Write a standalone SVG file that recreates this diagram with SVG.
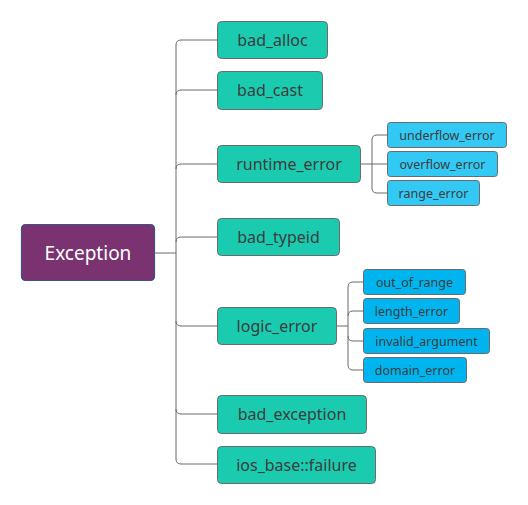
<svg xmlns="http://www.w3.org/2000/svg" width="528" height="505" viewBox="0 0 528 505">
<style>
.c{fill:none;stroke:#6b6b6b;stroke-width:1}
.m rect{fill:#1acbb0;stroke:#6b6b6b;stroke-width:1}
.s1 rect{fill:#33c9f5;stroke:#6b6b6b;stroke-width:1}
.s2 rect{fill:#00b5ef;stroke:#6b6b6b;stroke-width:1}
text{font-family:"Noto Sans","Open Sans",sans-serif;fill:#3d3d3d;text-anchor:middle;dominant-baseline:central}
.m text{font-size:16px}
.s1 text,.s2 text{font-size:12.5px}
</style>
<rect width="528" height="505" fill="#fff"/>
<g id="connectors">
<path class="c" d="M155,253 H176 M176,45 V459"/>
<path class="c" d="M176,45 Q176,40 181,40 H217"/>
<path class="c" d="M176,95 Q176,90 181,90 H217"/>
<path class="c" d="M176,169 Q176,164 181,164 H217"/>
<path class="c" d="M176,242 Q176,237 181,237 H217"/>
<path class="c" d="M176,321 Q176,326 181,326 H217"/>
<path class="c" d="M176,409 Q176,414 181,414 H217"/>
<path class="c" d="M176,459 Q176,464 181,464 H217"/>
<path class="c" d="M360,164 H387 M372,140 V188 M372,140 Q372,135 377,135 H387 M372,188 Q372,193 377,193 H387"/>
<path class="c" d="M336,326 H348 M348,287 V365 M348,287 Q348,282 353,282 H363 M348,316 Q348,311 353,311 H363 M348,336 Q348,341 353,341 H363 M348,365 Q348,370 353,370 H363"/>
</g>
<g id="exception"><rect x="21.5" y="224.5" width="133" height="56" rx="4" fill="#7a3370" stroke="#3a5582" stroke-width="1.2"/><text x="88" y="253" style="font-size:19px;fill:#fff">Exception</text></g>
<g id="bad_alloc" class="m"><rect x="217.5" y="21.5" width="110" height="37" rx="4"/><text x="272.5" y="40">bad_alloc</text></g>
<g id="bad_cast" class="m"><rect x="217.5" y="71.5" width="105" height="38" rx="4"/><text x="270" y="90">bad_cast</text></g>
<g id="runtime_error" class="m"><rect x="217.5" y="145.5" width="143" height="37" rx="4"/><text x="289" y="164">runtime_error</text></g>
<g id="bad_typeid" class="m"><rect x="217.5" y="218.5" width="122" height="37" rx="4"/><text x="278.5" y="237">bad_typeid</text></g>
<g id="logic_error" class="m"><rect x="217.5" y="307.5" width="119" height="37" rx="4"/><text x="277" y="326">logic_error</text></g>
<g id="bad_exception" class="m"><rect x="217.5" y="395.5" width="149" height="38" rx="4"/><text x="292" y="414">bad_exception</text></g>
<g id="ios_base_failure" class="m"><rect x="217.5" y="446.5" width="158" height="37" rx="4"/><text x="296.5" y="465">ios_base::failure</text></g>
<g id="underflow_error" class="s1"><rect x="387.5" y="122.5" width="119" height="25" rx="3"/><text x="447" y="135">underflow_error</text></g>
<g id="overflow_error" class="s1"><rect x="387.5" y="151.5" width="110" height="25" rx="3"/><text x="442.5" y="164">overflow_error</text></g>
<g id="range_error" class="s1"><rect x="387.5" y="180.5" width="92" height="25" rx="3"/><text x="433.5" y="193">range_error</text></g>
<g id="out_of_range" class="s2"><rect x="363.5" y="269.5" width="102" height="25" rx="3"/><text x="414.5" y="282">out_of_range</text></g>
<g id="length_error" class="s2"><rect x="363.5" y="298.5" width="96" height="25" rx="3"/><text x="411.5" y="311">length_error</text></g>
<g id="invalid_argument" class="s2"><rect x="363.5" y="328.5" width="126" height="25" rx="3"/><text x="426.5" y="341">invalid_argument</text></g>
<g id="domain_error" class="s2"><rect x="363.5" y="357.5" width="103" height="25" rx="3"/><text x="415" y="370">domain_error</text></g>
</svg>
